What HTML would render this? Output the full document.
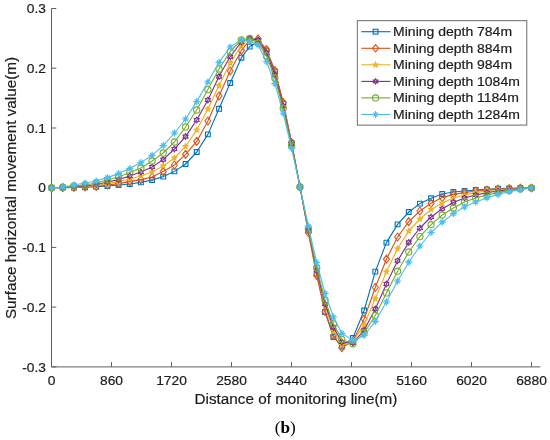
<!DOCTYPE html>
<html><head><meta charset="utf-8"><title>(b)</title>
<style>
html,body{margin:0;padding:0;background:#fff}
svg{display:block}
text{font-family:"Liberation Sans",Arial,Helvetica,sans-serif;fill:#1c1c1c;stroke:#1c1c1c;stroke-width:0.2px}
.t{font-size:13.33px}
.l{font-size:14.67px}
.cap{font-family:"Liberation Serif","Times New Roman",serif;font-size:16.4px;fill:#000;stroke:none}
</style></head><body>
<svg width="550" height="440" viewBox="0 0 550 440">
<rect width="550" height="440" fill="#fff"/>
<g stroke="#5e5e5e" stroke-width="1" fill="none"><path d="M51.5 8.5V366.9H540.3"/><path d="M51.5 366.9v-4.8M111.5 366.9v-4.8M171.5 366.9v-4.8M231.5 366.9v-4.8M291.5 366.9v-4.8M351.5 366.9v-4.8M411.5 366.9v-4.8M471.5 366.9v-4.8M531.5 366.9v-4.8M51.5 8.5h4.8M51.5 68.2h4.8M51.5 128.0h4.8M51.5 187.7h4.8M51.5 247.4h4.8M51.5 307.1h4.8M51.5 366.9h4.8"/></g>
<g fill="none" stroke="#0072BD" stroke-width="1.12" stroke-linejoin="round"><polyline points="51.6,187.8 62.8,187.6 73.9,187.5 85.1,187.3 96.3,186.8 107.4,186.0 118.6,185.0 129.7,184.0 140.9,182.4 152.1,180.0 163.2,176.6 174.4,171.4 185.6,164.0 196.7,152.0 207.9,134.4 219.0,108.8 230.2,83.0 241.4,57.7 249.7,46.6 258.1,41.8 266.5,50.5 274.9,71.5 283.2,103.5 291.6,143.0 300.0,187.0 308.3,230.7 316.7,273.8 325.1,312.0 333.5,337.0 341.8,346.5 352.9,338.0 364.1,310.5 375.3,271.6 386.4,242.6 397.6,224.4 408.8,212.0 419.9,203.6 431.1,198.3 442.2,194.0 453.4,192.0 464.5,191.0 475.7,190.0 486.9,189.4 498.0,188.6 509.2,188.4 520.4,188.0 531.5,188.0"/><rect x="49.2" y="185.4" width="4.8" height="4.8"/><rect x="60.36" y="185.2" width="4.8" height="4.8"/><rect x="71.53" y="185.1" width="4.8" height="4.8"/><rect x="82.69" y="184.9" width="4.8" height="4.8"/><rect x="93.85" y="184.4" width="4.8" height="4.8"/><rect x="105.01" y="183.6" width="4.8" height="4.8"/><rect x="116.18" y="182.6" width="4.8" height="4.8"/><rect x="127.34" y="181.6" width="4.8" height="4.8"/><rect x="138.5" y="180" width="4.8" height="4.8"/><rect x="149.67" y="177.6" width="4.8" height="4.8"/><rect x="160.83" y="174.2" width="4.8" height="4.8"/><rect x="171.99" y="169" width="4.8" height="4.8"/><rect x="183.16" y="161.6" width="4.8" height="4.8"/><rect x="194.32" y="149.6" width="4.8" height="4.8"/><rect x="205.48" y="132" width="4.8" height="4.8"/><rect x="216.64" y="106.4" width="4.8" height="4.8"/><rect x="227.81" y="80.6" width="4.8" height="4.8"/><rect x="238.97" y="55.3" width="4.8" height="4.8"/><rect x="247.34" y="44.2" width="4.8" height="4.8"/><rect x="255.71" y="39.4" width="4.8" height="4.8"/><rect x="264.09" y="48.1" width="4.8" height="4.8"/><rect x="272.46" y="69.1" width="4.8" height="4.8"/><rect x="280.83" y="101.1" width="4.8" height="4.8"/><rect x="289.2" y="140.6" width="4.8" height="4.8"/><rect x="297.57" y="184.6" width="4.8" height="4.8"/><rect x="305.95" y="228.29" width="4.8" height="4.8"/><rect x="314.32" y="271.38" width="4.8" height="4.8"/><rect x="322.69" y="309.6" width="4.8" height="4.8"/><rect x="331.06" y="334.6" width="4.8" height="4.8"/><rect x="339.43" y="344.1" width="4.8" height="4.8"/><rect x="350.55" y="335.6" width="4.8" height="4.8"/><rect x="361.71" y="308.1" width="4.8" height="4.8"/><rect x="372.87" y="269.2" width="4.8" height="4.8"/><rect x="384.03" y="240.2" width="4.8" height="4.8"/><rect x="395.19" y="222" width="4.8" height="4.8"/><rect x="406.35" y="209.6" width="4.8" height="4.8"/><rect x="417.51" y="201.2" width="4.8" height="4.8"/><rect x="428.67" y="195.9" width="4.8" height="4.8"/><rect x="439.83" y="191.6" width="4.8" height="4.8"/><rect x="450.99" y="189.6" width="4.8" height="4.8"/><rect x="462.15" y="188.6" width="4.8" height="4.8"/><rect x="473.31" y="187.6" width="4.8" height="4.8"/><rect x="484.47" y="187" width="4.8" height="4.8"/><rect x="495.63" y="186.2" width="4.8" height="4.8"/><rect x="506.79" y="186" width="4.8" height="4.8"/><rect x="517.95" y="185.6" width="4.8" height="4.8"/><rect x="529.11" y="185.6" width="4.8" height="4.8"/></g>
<g fill="none" stroke="#D95319" stroke-width="1.12" stroke-linejoin="round"><polyline points="51.6,187.8 62.8,187.6 73.9,187.3 85.1,187.0 96.3,186.3 107.4,185.0 118.6,183.6 129.7,181.6 140.9,179.6 152.1,177.0 163.2,171.6 174.4,165.0 185.6,154.4 196.7,141.4 207.9,121.0 219.0,96.0 230.2,71.0 241.4,50.4 249.7,40.0 258.1,38.9 266.5,49.6 274.9,70.5 283.2,102.6 291.6,142.5 300.0,187.0 308.3,232.5 316.7,275.5 325.1,311.5 333.5,335.6 341.8,347.7 352.9,341.0 364.1,319.0 375.3,287.5 386.4,259.2 397.6,237.0 408.8,221.6 419.9,211.0 431.1,203.3 442.2,197.6 453.4,194.4 464.5,192.6 475.7,191.0 486.9,190.0 498.0,189.0 509.2,188.6 520.4,188.2 531.5,188.0"/><path d="M51.6 183.8L54.6 187.8L51.6 191.8L48.6 187.8Z"/><path d="M62.76 183.6L65.76 187.6L62.76 191.6L59.76 187.6Z"/><path d="M73.93 183.3L76.93 187.3L73.93 191.3L70.93 187.3Z"/><path d="M85.09 183L88.09 187L85.09 191L82.09 187Z"/><path d="M96.25 182.3L99.25 186.3L96.25 190.3L93.25 186.3Z"/><path d="M107.41 181L110.41 185L107.41 189L104.41 185Z"/><path d="M118.58 179.6L121.58 183.6L118.58 187.6L115.58 183.6Z"/><path d="M129.74 177.6L132.74 181.6L129.74 185.6L126.74 181.6Z"/><path d="M140.9 175.6L143.9 179.6L140.9 183.6L137.9 179.6Z"/><path d="M152.07 173L155.07 177L152.07 181L149.07 177Z"/><path d="M163.23 167.6L166.23 171.6L163.23 175.6L160.23 171.6Z"/><path d="M174.39 161L177.39 165L174.39 169L171.39 165Z"/><path d="M185.56 150.4L188.56 154.4L185.56 158.4L182.56 154.4Z"/><path d="M196.72 137.4L199.72 141.4L196.72 145.4L193.72 141.4Z"/><path d="M207.88 117L210.88 121L207.88 125L204.88 121Z"/><path d="M219.04 92L222.04 96L219.04 100L216.04 96Z"/><path d="M230.21 67L233.21 71L230.21 75L227.21 71Z"/><path d="M241.37 46.4L244.37 50.4L241.37 54.4L238.37 50.4Z"/><path d="M249.74 36L252.74 40L249.74 44L246.74 40Z"/><path d="M258.11 34.9L261.11 38.9L258.11 42.9L255.11 38.9Z"/><path d="M266.49 45.6L269.49 49.6L266.49 53.6L263.49 49.6Z"/><path d="M274.86 66.5L277.86 70.5L274.86 74.5L271.86 70.5Z"/><path d="M283.23 98.64L286.23 102.64L283.23 106.64L280.23 102.64Z"/><path d="M291.6 138.47L294.6 142.47L291.6 146.47L288.6 142.47Z"/><path d="M299.97 183L302.97 187L299.97 191L296.97 187Z"/><path d="M308.35 228.49L311.35 232.49L308.35 236.49L305.35 232.49Z"/><path d="M316.72 271.46L319.72 275.46L316.72 279.46L313.72 275.46Z"/><path d="M325.09 307.5L328.09 311.5L325.09 315.5L322.09 311.5Z"/><path d="M333.46 331.6L336.46 335.6L333.46 339.6L330.46 335.6Z"/><path d="M341.83 343.7L344.83 347.7L341.83 351.7L338.83 347.7Z"/><path d="M352.95 337L355.95 341L352.95 345L349.95 341Z"/><path d="M364.11 315L367.11 319L364.11 323L361.11 319Z"/><path d="M375.27 283.5L378.27 287.5L375.27 291.5L372.27 287.5Z"/><path d="M386.43 255.2L389.43 259.2L386.43 263.2L383.43 259.2Z"/><path d="M397.59 233L400.59 237L397.59 241L394.59 237Z"/><path d="M408.75 217.6L411.75 221.6L408.75 225.6L405.75 221.6Z"/><path d="M419.91 207L422.91 211L419.91 215L416.91 211Z"/><path d="M431.07 199.3L434.07 203.3L431.07 207.3L428.07 203.3Z"/><path d="M442.23 193.6L445.23 197.6L442.23 201.6L439.23 197.6Z"/><path d="M453.39 190.4L456.39 194.4L453.39 198.4L450.39 194.4Z"/><path d="M464.55 188.6L467.55 192.6L464.55 196.6L461.55 192.6Z"/><path d="M475.71 187L478.71 191L475.71 195L472.71 191Z"/><path d="M486.87 186L489.87 190L486.87 194L483.87 190Z"/><path d="M498.03 185L501.03 189L498.03 193L495.03 189Z"/><path d="M509.19 184.6L512.19 188.6L509.19 192.6L506.19 188.6Z"/><path d="M520.35 184.2L523.35 188.2L520.35 192.2L517.35 188.2Z"/><path d="M531.51 184L534.51 188L531.51 192L528.51 188Z"/></g>
<g fill="none" stroke="#EDB120" stroke-width="1.12" stroke-linejoin="round"><polyline points="51.6,187.8 62.8,187.5 73.9,187.0 85.1,186.5 96.3,185.5 107.4,183.6 118.6,181.6 129.7,179.0 140.9,176.0 152.1,172.0 163.2,166.0 174.4,158.0 185.6,146.4 196.7,130.0 207.9,109.0 219.0,85.6 230.2,63.0 241.4,45.6 249.7,39.6 258.1,41.5 266.5,53.4 274.9,75.4 283.2,106.5 291.6,144.6 300.0,187.0 308.3,230.6 316.7,271.6 325.1,306.2 333.5,331.0 341.8,345.0 352.9,341.6 364.1,324.9 375.3,298.7 386.4,271.8 397.6,248.6 408.8,231.0 419.9,219.0 431.1,209.5 442.2,203.0 453.4,198.0 464.5,195.0 475.7,192.6 486.9,191.0 498.0,189.8 509.2,189.0 520.4,188.4 531.5,188.0"/><path d="M51.6 184.95L52.24 186.92L54.31 186.92L52.64 188.14L53.28 190.11L51.6 188.89L49.92 190.11L50.56 188.14L48.89 186.92L50.96 186.92Z"/><path d="M62.76 184.65L63.4 186.62L65.47 186.62L63.8 187.84L64.44 189.81L62.76 188.59L61.09 189.81L61.73 187.84L60.05 186.62L62.12 186.62Z"/><path d="M73.93 184.15L74.57 186.12L76.64 186.12L74.96 187.34L75.6 189.31L73.93 188.09L72.25 189.31L72.89 187.34L71.22 186.12L73.29 186.12Z"/><path d="M85.09 183.65L85.73 185.62L87.8 185.62L86.12 186.84L86.76 188.81L85.09 187.59L83.41 188.81L84.05 186.84L82.38 185.62L84.45 185.62Z"/><path d="M96.25 182.65L96.89 184.62L98.96 184.62L97.29 185.84L97.93 187.81L96.25 186.59L94.58 187.81L95.22 185.84L93.54 184.62L95.61 184.62Z"/><path d="M107.41 180.75L108.05 182.72L110.13 182.72L108.45 183.94L109.09 185.91L107.41 184.69L105.74 185.91L106.38 183.94L104.7 182.72L106.78 182.72Z"/><path d="M118.58 178.75L119.22 180.72L121.29 180.72L119.61 181.94L120.25 183.91L118.58 182.69L116.9 183.91L117.54 181.94L115.87 180.72L117.94 180.72Z"/><path d="M129.74 176.15L130.38 178.12L132.45 178.12L130.78 179.34L131.42 181.31L129.74 180.09L128.07 181.31L128.71 179.34L127.03 178.12L129.1 178.12Z"/><path d="M140.9 173.15L141.54 175.12L143.61 175.12L141.94 176.34L142.58 178.31L140.9 177.09L139.23 178.31L139.87 176.34L138.19 175.12L140.26 175.12Z"/><path d="M152.07 169.15L152.71 171.12L154.78 171.12L153.1 172.34L153.74 174.31L152.07 173.09L150.39 174.31L151.03 172.34L149.36 171.12L151.43 171.12Z"/><path d="M163.23 163.15L163.87 165.12L165.94 165.12L164.27 166.34L164.91 168.31L163.23 167.09L161.55 168.31L162.19 166.34L160.52 165.12L162.59 165.12Z"/><path d="M174.39 155.15L175.03 157.12L177.1 157.12L175.43 158.34L176.07 160.31L174.39 159.09L172.72 160.31L173.36 158.34L171.68 157.12L173.75 157.12Z"/><path d="M185.56 143.55L186.2 145.52L188.27 145.52L186.59 146.74L187.23 148.71L185.56 147.49L183.88 148.71L184.52 146.74L182.85 145.52L184.92 145.52Z"/><path d="M196.72 127.15L197.36 129.12L199.43 129.12L197.75 130.34L198.39 132.31L196.72 131.09L195.04 132.31L195.68 130.34L194.01 129.12L196.08 129.12Z"/><path d="M207.88 106.15L208.52 108.12L210.59 108.12L208.92 109.34L209.56 111.31L207.88 110.09L206.21 111.31L206.85 109.34L205.17 108.12L207.24 108.12Z"/><path d="M219.04 82.75L219.68 84.72L221.76 84.72L220.08 85.94L220.72 87.91L219.04 86.69L217.37 87.91L218.01 85.94L216.33 84.72L218.41 84.72Z"/><path d="M230.21 60.15L230.85 62.12L232.92 62.12L231.24 63.34L231.88 65.31L230.21 64.09L228.53 65.31L229.17 63.34L227.5 62.12L229.57 62.12Z"/><path d="M241.37 42.75L242.01 44.72L244.08 44.72L242.41 45.94L243.05 47.91L241.37 46.69L239.7 47.91L240.34 45.94L238.66 44.72L240.73 44.72Z"/><path d="M249.74 36.75L250.38 38.72L252.45 38.72L250.78 39.94L251.42 41.91L249.74 40.69L248.07 41.91L248.71 39.94L247.03 38.72L249.1 38.72Z"/><path d="M258.11 38.68L258.75 40.65L260.82 40.65L259.15 41.87L259.79 43.83L258.11 42.62L256.44 43.83L257.08 41.87L255.4 40.65L257.47 40.65Z"/><path d="M266.49 50.56L267.13 52.53L269.2 52.53L267.52 53.75L268.16 55.72L266.49 54.5L264.81 55.72L265.45 53.75L263.78 52.53L265.85 52.53Z"/><path d="M274.86 72.58L275.5 74.55L277.57 74.55L275.89 75.77L276.53 77.73L274.86 76.52L273.18 77.73L273.82 75.77L272.15 74.55L274.22 74.55Z"/><path d="M283.23 103.66L283.87 105.63L285.94 105.63L284.27 106.85L284.91 108.82L283.23 107.6L281.55 108.82L282.19 106.85L280.52 105.63L282.59 105.63Z"/><path d="M291.6 141.76L292.24 143.73L294.31 143.73L292.64 144.95L293.28 146.91L291.6 145.7L289.93 146.91L290.57 144.95L288.89 143.73L290.96 143.73Z"/><path d="M299.97 184.15L300.61 186.12L302.68 186.12L301.01 187.34L301.65 189.31L299.97 188.09L298.3 189.31L298.94 187.34L297.26 186.12L299.33 186.12Z"/><path d="M308.35 227.73L308.99 229.7L311.06 229.7L309.38 230.91L310.02 232.88L308.35 231.66L306.67 232.88L307.31 230.91L305.64 229.7L307.71 229.7Z"/><path d="M316.72 268.74L317.36 270.71L319.43 270.71L317.75 271.93L318.39 273.9L316.72 272.68L315.04 273.9L315.68 271.93L314.01 270.71L316.08 270.71Z"/><path d="M325.09 303.36L325.73 305.33L327.8 305.33L326.13 306.55L326.77 308.52L325.09 307.3L323.41 308.52L324.05 306.55L322.38 305.33L324.45 305.33Z"/><path d="M333.46 328.15L334.1 330.12L336.17 330.12L334.5 331.34L335.14 333.31L333.46 332.09L331.79 333.31L332.43 331.34L330.75 330.12L332.82 330.12Z"/><path d="M341.83 342.15L342.47 344.12L344.54 344.12L342.87 345.34L343.51 347.31L341.83 346.09L340.16 347.31L340.8 345.34L339.12 344.12L341.19 344.12Z"/><path d="M352.95 338.75L353.59 340.72L355.66 340.72L353.99 341.94L354.63 343.91L352.95 342.69L351.27 343.91L351.91 341.94L350.24 340.72L352.31 340.72Z"/><path d="M364.11 322.05L364.75 324.02L366.82 324.02L365.15 325.24L365.79 327.21L364.11 325.99L362.43 327.21L363.07 325.24L361.4 324.02L363.47 324.02Z"/><path d="M375.27 295.85L375.91 297.82L377.98 297.82L376.31 299.04L376.95 301.01L375.27 299.79L373.59 301.01L374.23 299.04L372.56 297.82L374.63 297.82Z"/><path d="M386.43 268.95L387.07 270.92L389.14 270.92L387.47 272.14L388.11 274.11L386.43 272.89L384.75 274.11L385.39 272.14L383.72 270.92L385.79 270.92Z"/><path d="M397.59 245.75L398.23 247.72L400.3 247.72L398.63 248.94L399.27 250.91L397.59 249.69L395.91 250.91L396.55 248.94L394.88 247.72L396.95 247.72Z"/><path d="M408.75 228.15L409.39 230.12L411.46 230.12L409.79 231.34L410.43 233.31L408.75 232.09L407.07 233.31L407.71 231.34L406.04 230.12L408.11 230.12Z"/><path d="M419.91 216.15L420.55 218.12L422.62 218.12L420.95 219.34L421.59 221.31L419.91 220.09L418.23 221.31L418.87 219.34L417.2 218.12L419.27 218.12Z"/><path d="M431.07 206.65L431.71 208.62L433.78 208.62L432.11 209.84L432.75 211.81L431.07 210.59L429.39 211.81L430.03 209.84L428.36 208.62L430.43 208.62Z"/><path d="M442.23 200.15L442.87 202.12L444.94 202.12L443.27 203.34L443.91 205.31L442.23 204.09L440.55 205.31L441.19 203.34L439.52 202.12L441.59 202.12Z"/><path d="M453.39 195.15L454.03 197.12L456.1 197.12L454.43 198.34L455.07 200.31L453.39 199.09L451.71 200.31L452.35 198.34L450.68 197.12L452.75 197.12Z"/><path d="M464.55 192.15L465.19 194.12L467.26 194.12L465.59 195.34L466.23 197.31L464.55 196.09L462.87 197.31L463.51 195.34L461.84 194.12L463.91 194.12Z"/><path d="M475.71 189.75L476.35 191.72L478.42 191.72L476.75 192.94L477.39 194.91L475.71 193.69L474.03 194.91L474.67 192.94L473 191.72L475.07 191.72Z"/><path d="M486.87 188.15L487.51 190.12L489.58 190.12L487.91 191.34L488.55 193.31L486.87 192.09L485.19 193.31L485.83 191.34L484.16 190.12L486.23 190.12Z"/><path d="M498.03 186.95L498.67 188.92L500.74 188.92L499.07 190.14L499.71 192.11L498.03 190.89L496.35 192.11L496.99 190.14L495.32 188.92L497.39 188.92Z"/><path d="M509.19 186.15L509.83 188.12L511.9 188.12L510.23 189.34L510.87 191.31L509.19 190.09L507.51 191.31L508.15 189.34L506.48 188.12L508.55 188.12Z"/><path d="M520.35 185.55L520.99 187.52L523.06 187.52L521.39 188.74L522.03 190.71L520.35 189.49L518.67 190.71L519.31 188.74L517.64 187.52L519.71 187.52Z"/><path d="M531.51 185.15L532.15 187.12L534.22 187.12L532.55 188.34L533.19 190.31L531.51 189.09L529.83 190.31L530.47 188.34L528.8 187.12L530.87 187.12Z"/></g>
<g fill="none" stroke="#7E2F8E" stroke-width="1.12" stroke-linejoin="round"><polyline points="51.6,187.8 62.8,187.4 73.9,186.5 85.1,186.0 96.3,184.5 107.4,182.0 118.6,179.6 129.7,176.0 140.9,172.0 152.1,167.0 163.2,159.6 174.4,149.0 185.6,136.6 196.7,120.0 207.9,100.0 219.0,76.6 230.2,56.6 241.4,42.0 249.7,38.5 258.1,40.0 266.5,52.7 274.9,74.8 283.2,106.0 291.6,144.3 300.0,187.0 308.3,230.3 316.7,270.5 325.1,304.0 333.5,327.4 341.8,342.0 352.9,343.0 364.1,330.2 375.3,308.9 386.4,284.0 397.6,260.7 408.8,242.4 419.9,228.0 431.1,217.0 442.2,208.8 453.4,202.4 464.5,198.0 475.7,195.0 486.9,192.6 498.0,191.0 509.2,189.6 520.4,188.6 531.5,188.0"/><path d="M51.6 184.85L52.45 186.33L54.15 186.33L53.3 187.8L54.15 189.28L52.45 189.27L51.6 190.75L50.75 189.27L49.05 189.28L49.9 187.8L49.05 186.33L50.75 186.33Z"/><path d="M62.76 184.45L63.61 185.93L65.32 185.93L64.47 187.4L65.32 188.88L63.61 188.87L62.76 190.35L61.91 188.87L60.21 188.88L61.06 187.4L60.21 185.93L61.91 185.93Z"/><path d="M73.93 183.55L74.78 185.03L76.48 185.03L75.63 186.5L76.48 187.97L74.78 187.97L73.93 189.45L73.07 187.97L71.37 187.97L72.22 186.5L71.37 185.03L73.07 185.03Z"/><path d="M85.09 183.05L85.94 184.53L87.64 184.53L86.79 186L87.64 187.47L85.94 187.47L85.09 188.95L84.24 187.47L82.53 187.47L83.39 186L82.53 184.53L84.24 184.53Z"/><path d="M96.25 181.55L97.1 183.03L98.81 183.03L97.95 184.5L98.81 185.97L97.1 185.97L96.25 187.45L95.4 185.97L93.7 185.97L94.55 184.5L93.7 183.03L95.4 183.03Z"/><path d="M107.41 179.05L108.27 180.53L109.97 180.53L109.12 182L109.97 183.47L108.27 183.47L107.41 184.95L106.56 183.47L104.86 183.47L105.71 182L104.86 180.53L106.56 180.53Z"/><path d="M118.58 176.65L119.43 178.13L121.13 178.12L120.28 179.6L121.13 181.07L119.43 181.07L118.58 182.55L117.73 181.07L116.02 181.07L116.88 179.6L116.02 178.12L117.73 178.13Z"/><path d="M129.74 173.05L130.59 174.53L132.3 174.53L131.44 176L132.3 177.47L130.59 177.47L129.74 178.95L128.89 177.47L127.19 177.47L128.04 176L127.19 174.53L128.89 174.53Z"/><path d="M140.9 169.05L141.76 170.53L143.46 170.53L142.61 172L143.46 173.47L141.76 173.47L140.9 174.95L140.05 173.47L138.35 173.47L139.2 172L138.35 170.53L140.05 170.53Z"/><path d="M152.07 164.05L152.92 165.53L154.62 165.53L153.77 167L154.62 168.47L152.92 168.47L152.07 169.95L151.22 168.47L149.51 168.47L150.36 167L149.51 165.53L151.22 165.53Z"/><path d="M163.23 156.65L164.08 158.13L165.78 158.12L164.93 159.6L165.78 161.07L164.08 161.07L163.23 162.55L162.38 161.07L160.68 161.07L161.53 159.6L160.68 158.12L162.38 158.13Z"/><path d="M174.39 146.05L175.24 147.53L176.95 147.53L176.1 149L176.95 150.47L175.24 150.47L174.39 151.95L173.54 150.47L171.84 150.47L172.69 149L171.84 147.53L173.54 147.53Z"/><path d="M185.56 133.65L186.41 135.13L188.11 135.12L187.26 136.6L188.11 138.07L186.41 138.07L185.56 139.55L184.7 138.07L183 138.07L183.85 136.6L183 135.12L184.7 135.13Z"/><path d="M196.72 117.05L197.57 118.53L199.27 118.53L198.42 120L199.27 121.47L197.57 121.47L196.72 122.95L195.87 121.47L194.16 121.47L195.02 120L194.16 118.53L195.87 118.53Z"/><path d="M207.88 97.05L208.73 98.53L210.44 98.53L209.58 100L210.44 101.47L208.73 101.47L207.88 102.95L207.03 101.47L205.33 101.47L206.18 100L205.33 98.53L207.03 98.53Z"/><path d="M219.04 73.65L219.9 75.13L221.6 75.12L220.75 76.6L221.6 78.07L219.9 78.07L219.04 79.55L218.19 78.07L216.49 78.07L217.34 76.6L216.49 75.12L218.19 75.13Z"/><path d="M230.21 53.65L231.06 55.13L232.76 55.12L231.91 56.6L232.76 58.08L231.06 58.07L230.21 59.55L229.36 58.07L227.65 58.08L228.51 56.6L227.65 55.12L229.36 55.13Z"/><path d="M241.37 39.05L242.22 40.53L243.93 40.52L243.07 42L243.93 43.48L242.22 43.47L241.37 44.95L240.52 43.47L238.82 43.48L239.67 42L238.82 40.52L240.52 40.53Z"/><path d="M249.74 35.55L250.59 37.03L252.3 37.02L251.44 38.5L252.3 39.98L250.59 39.97L249.74 41.45L248.89 39.97L247.19 39.98L248.04 38.5L247.19 37.02L248.89 37.03Z"/><path d="M258.11 37.05L258.97 38.53L260.67 38.52L259.82 40L260.67 41.48L258.97 41.47L258.11 42.95L257.26 41.47L255.56 41.48L256.41 40L255.56 38.52L257.26 38.53Z"/><path d="M266.49 49.75L267.34 51.23L269.04 51.23L268.19 52.7L269.04 54.18L267.34 54.17L266.49 55.65L265.63 54.17L263.93 54.18L264.78 52.7L263.93 51.23L265.63 51.23Z"/><path d="M274.86 71.85L275.71 73.32L277.41 73.32L276.56 74.8L277.41 76.27L275.71 76.27L274.86 77.75L274.01 76.27L272.3 76.27L273.16 74.8L272.3 73.32L274.01 73.32Z"/><path d="M283.23 103.01L284.08 104.48L285.78 104.48L284.93 105.96L285.78 107.43L284.08 107.43L283.23 108.91L282.38 107.43L280.68 107.43L281.53 105.96L280.68 104.48L282.38 104.48Z"/><path d="M291.6 141.37L292.45 142.84L294.16 142.84L293.3 144.32L294.16 145.79L292.45 145.79L291.6 147.27L290.75 145.79L289.05 145.79L289.9 144.32L289.05 142.84L290.75 142.84Z"/><path d="M299.97 184.05L300.83 185.53L302.53 185.53L301.68 187L302.53 188.47L300.83 188.47L299.97 189.95L299.12 188.47L297.42 188.47L298.27 187L297.42 185.53L299.12 185.53Z"/><path d="M308.35 227.38L309.2 228.86L310.9 228.86L310.05 230.33L310.9 231.81L309.2 231.81L308.35 233.28L307.49 231.81L305.79 231.81L306.64 230.33L305.79 228.86L307.49 228.86Z"/><path d="M316.72 267.57L317.57 269.05L319.27 269.05L318.42 270.52L319.27 272L317.57 272L316.72 273.47L315.87 272L314.16 272L315.02 270.52L314.16 269.05L315.87 269.05Z"/><path d="M325.09 301.05L325.94 302.53L327.64 302.52L326.79 304L327.64 305.48L325.94 305.47L325.09 306.95L324.24 305.47L322.54 305.48L323.39 304L322.54 302.52L324.24 302.53Z"/><path d="M333.46 324.45L334.31 325.93L336.02 325.92L335.16 327.4L336.02 328.88L334.31 328.87L333.46 330.35L332.61 328.87L330.91 328.88L331.76 327.4L330.91 325.92L332.61 325.93Z"/><path d="M341.83 339.05L342.69 340.53L344.39 340.52L343.54 342L344.39 343.48L342.69 343.47L341.83 344.95L340.98 343.47L339.28 343.48L340.13 342L339.28 340.52L340.98 340.53Z"/><path d="M352.95 340.05L353.8 341.53L355.5 341.52L354.65 343L355.5 344.48L353.8 344.47L352.95 345.95L352.1 344.47L350.4 344.48L351.25 343L350.4 341.52L352.1 341.53Z"/><path d="M364.11 327.25L364.96 328.73L366.66 328.72L365.81 330.2L366.66 331.68L364.96 331.67L364.11 333.15L363.26 331.67L361.56 331.68L362.41 330.2L361.56 328.72L363.26 328.73Z"/><path d="M375.27 305.95L376.12 307.43L377.82 307.42L376.97 308.9L377.82 310.38L376.12 310.37L375.27 311.85L374.42 310.37L372.72 310.38L373.57 308.9L372.72 307.42L374.42 307.43Z"/><path d="M386.43 281.05L387.28 282.53L388.98 282.52L388.13 284L388.98 285.48L387.28 285.47L386.43 286.95L385.58 285.47L383.88 285.48L384.73 284L383.88 282.52L385.58 282.53Z"/><path d="M397.59 257.75L398.44 259.23L400.14 259.22L399.29 260.7L400.14 262.18L398.44 262.17L397.59 263.65L396.74 262.17L395.04 262.18L395.89 260.7L395.04 259.22L396.74 259.23Z"/><path d="M408.75 239.45L409.6 240.93L411.3 240.93L410.45 242.4L411.3 243.88L409.6 243.87L408.75 245.35L407.9 243.87L406.2 243.88L407.05 242.4L406.2 240.93L407.9 240.93Z"/><path d="M419.91 225.05L420.76 226.53L422.46 226.53L421.61 228L422.46 229.47L420.76 229.47L419.91 230.95L419.06 229.47L417.36 229.47L418.21 228L417.36 226.53L419.06 226.53Z"/><path d="M431.07 214.05L431.92 215.53L433.62 215.53L432.77 217L433.62 218.47L431.92 218.47L431.07 219.95L430.22 218.47L428.52 218.47L429.37 217L428.52 215.53L430.22 215.53Z"/><path d="M442.23 205.85L443.08 207.33L444.78 207.33L443.93 208.8L444.78 210.28L443.08 210.27L442.23 211.75L441.38 210.27L439.68 210.28L440.53 208.8L439.68 207.33L441.38 207.33Z"/><path d="M453.39 199.45L454.24 200.93L455.94 200.93L455.09 202.4L455.94 203.88L454.24 203.87L453.39 205.35L452.54 203.87L450.84 203.88L451.69 202.4L450.84 200.93L452.54 200.93Z"/><path d="M464.55 195.05L465.4 196.53L467.1 196.53L466.25 198L467.1 199.47L465.4 199.47L464.55 200.95L463.7 199.47L462 199.47L462.85 198L462 196.53L463.7 196.53Z"/><path d="M475.71 192.05L476.56 193.53L478.26 193.53L477.41 195L478.26 196.47L476.56 196.47L475.71 197.95L474.86 196.47L473.16 196.47L474.01 195L473.16 193.53L474.86 193.53Z"/><path d="M486.87 189.65L487.72 191.13L489.42 191.12L488.57 192.6L489.42 194.07L487.72 194.07L486.87 195.55L486.02 194.07L484.32 194.07L485.17 192.6L484.32 191.12L486.02 191.13Z"/><path d="M498.03 188.05L498.88 189.53L500.58 189.53L499.73 191L500.58 192.47L498.88 192.47L498.03 193.95L497.18 192.47L495.48 192.47L496.33 191L495.48 189.53L497.18 189.53Z"/><path d="M509.19 186.65L510.04 188.13L511.74 188.12L510.89 189.6L511.74 191.07L510.04 191.07L509.19 192.55L508.34 191.07L506.64 191.07L507.49 189.6L506.64 188.12L508.34 188.13Z"/><path d="M520.35 185.65L521.2 187.13L522.9 187.12L522.05 188.6L522.9 190.07L521.2 190.07L520.35 191.55L519.5 190.07L517.8 190.07L518.65 188.6L517.8 187.12L519.5 187.13Z"/><path d="M531.51 185.05L532.36 186.53L534.06 186.53L533.21 188L534.06 189.47L532.36 189.47L531.51 190.95L530.66 189.47L528.96 189.47L529.81 188L528.96 186.53L530.66 186.53Z"/></g>
<g fill="none" stroke="#77AC30" stroke-width="1.12" stroke-linejoin="round"><polyline points="51.6,187.8 62.8,187.2 73.9,186.0 85.1,185.0 96.3,183.0 107.4,180.0 118.6,177.0 129.7,172.6 140.9,168.0 152.1,161.0 163.2,153.0 174.4,142.0 185.6,127.0 196.7,110.0 207.9,89.6 219.0,69.0 230.2,51.6 241.4,40.0 249.7,38.5 258.1,43.0 266.5,56.0 274.9,78.0 283.2,108.4 291.6,145.7 300.0,187.0 308.3,228.9 316.7,267.8 325.1,300.3 333.5,324.0 341.8,339.5 352.9,343.8 364.1,333.0 375.3,315.5 386.4,292.9 397.6,271.2 408.8,252.0 419.9,236.6 431.1,224.7 442.2,215.0 453.4,208.0 464.5,202.0 475.7,198.0 486.9,195.0 498.0,192.6 509.2,190.4 520.4,189.0 531.5,188.0"/><circle cx="51.6" cy="187.8" r="3.1"/><circle cx="62.76" cy="187.2" r="3.1"/><circle cx="73.93" cy="186" r="3.1"/><circle cx="85.09" cy="185" r="3.1"/><circle cx="96.25" cy="183" r="3.1"/><circle cx="107.41" cy="180" r="3.1"/><circle cx="118.58" cy="177" r="3.1"/><circle cx="129.74" cy="172.6" r="3.1"/><circle cx="140.9" cy="168" r="3.1"/><circle cx="152.07" cy="161" r="3.1"/><circle cx="163.23" cy="153" r="3.1"/><circle cx="174.39" cy="142" r="3.1"/><circle cx="185.56" cy="127" r="3.1"/><circle cx="196.72" cy="110" r="3.1"/><circle cx="207.88" cy="89.6" r="3.1"/><circle cx="219.04" cy="69" r="3.1"/><circle cx="230.21" cy="51.6" r="3.1"/><circle cx="241.37" cy="40" r="3.1"/><circle cx="249.74" cy="38.5" r="3.1"/><circle cx="258.11" cy="42.98" r="3.1"/><circle cx="266.49" cy="55.98" r="3.1"/><circle cx="274.86" cy="77.97" r="3.1"/><circle cx="283.23" cy="108.43" r="3.1"/><circle cx="291.6" cy="145.68" r="3.1"/><circle cx="299.97" cy="187" r="3.1"/><circle cx="308.35" cy="228.93" r="3.1"/><circle cx="316.72" cy="267.78" r="3.1"/><circle cx="325.09" cy="300.26" r="3.1"/><circle cx="333.46" cy="324" r="3.1"/><circle cx="341.83" cy="339.5" r="3.1"/><circle cx="352.95" cy="343.8" r="3.1"/><circle cx="364.11" cy="333" r="3.1"/><circle cx="375.27" cy="315.5" r="3.1"/><circle cx="386.43" cy="292.9" r="3.1"/><circle cx="397.59" cy="271.2" r="3.1"/><circle cx="408.75" cy="252" r="3.1"/><circle cx="419.91" cy="236.6" r="3.1"/><circle cx="431.07" cy="224.7" r="3.1"/><circle cx="442.23" cy="215" r="3.1"/><circle cx="453.39" cy="208" r="3.1"/><circle cx="464.55" cy="202" r="3.1"/><circle cx="475.71" cy="198" r="3.1"/><circle cx="486.87" cy="195" r="3.1"/><circle cx="498.03" cy="192.6" r="3.1"/><circle cx="509.19" cy="190.4" r="3.1"/><circle cx="520.35" cy="189" r="3.1"/><circle cx="531.51" cy="188" r="3.1"/></g>
<g fill="none" stroke="#4DBEEE" stroke-width="1.12" stroke-linejoin="round"><polyline points="51.6,187.8 62.8,187.0 73.9,185.0 85.1,183.0 96.3,181.0 107.4,177.6 118.6,173.6 129.7,168.6 140.9,162.6 152.1,155.3 163.2,145.6 174.4,133.0 185.6,119.0 196.7,101.6 207.9,82.0 219.0,62.4 230.2,47.0 241.4,39.6 249.7,41.0 258.1,45.0 266.5,61.5 274.9,83.7 283.2,113.2 291.6,148.5 300.0,187.0 308.3,226.1 316.7,262.5 325.1,293.5 333.5,317.0 341.8,333.3 352.9,340.4 364.1,335.5 375.3,321.3 386.4,302.0 397.6,281.0 408.8,262.2 419.9,246.0 431.1,232.5 442.2,222.2 453.4,213.6 464.5,207.0 475.7,202.0 486.9,198.0 498.0,194.4 509.2,191.6 520.4,189.6 531.5,188.0"/><path stroke-width="1.2" d="M48 187.8L55.2 187.8M49.44 185.64L53.76 189.96M51.6 184.2L51.6 191.4M53.76 185.64L49.44 189.96"/><path stroke-width="1.2" d="M59.16 187L66.36 187M60.6 184.84L64.93 189.16M62.76 183.4L62.76 190.6M64.93 184.84L60.6 189.16"/><path stroke-width="1.2" d="M70.33 185L77.53 185M71.76 182.84L76.09 187.16M73.93 181.4L73.93 188.6M76.09 182.84L71.76 187.16"/><path stroke-width="1.2" d="M81.49 183L88.69 183M82.93 180.84L87.25 185.16M85.09 179.4L85.09 186.6M87.25 180.84L82.93 185.16"/><path stroke-width="1.2" d="M92.65 181L99.85 181M94.09 178.84L98.42 183.16M96.25 177.4L96.25 184.6M98.42 178.84L94.09 183.16"/><path stroke-width="1.2" d="M103.81 177.6L111.01 177.6M105.25 175.44L109.58 179.76M107.41 174L107.41 181.2M109.58 175.44L105.25 179.76"/><path stroke-width="1.2" d="M114.98 173.6L122.18 173.6M116.41 171.44L120.74 175.76M118.58 170L118.58 177.2M120.74 171.44L116.41 175.76"/><path stroke-width="1.2" d="M126.14 168.6L133.34 168.6M127.58 166.44L131.9 170.76M129.74 165L129.74 172.2M131.9 166.44L127.58 170.76"/><path stroke-width="1.2" d="M137.3 162.6L144.5 162.6M138.74 160.44L143.07 164.76M140.9 159L140.9 166.2M143.07 160.44L138.74 164.76"/><path stroke-width="1.2" d="M148.47 155.3L155.67 155.3M149.9 153.14L154.23 157.46M152.07 151.7L152.07 158.9M154.23 153.14L149.9 157.46"/><path stroke-width="1.2" d="M159.63 145.6L166.83 145.6M161.07 143.44L165.39 147.76M163.23 142L163.23 149.2M165.39 143.44L161.07 147.76"/><path stroke-width="1.2" d="M170.79 133L177.99 133M172.23 130.84L176.56 135.16M174.39 129.4L174.39 136.6M176.56 130.84L172.23 135.16"/><path stroke-width="1.2" d="M181.96 119L189.16 119M183.39 116.84L187.72 121.16M185.56 115.4L185.56 122.6M187.72 116.84L183.39 121.16"/><path stroke-width="1.2" d="M193.12 101.6L200.32 101.6M194.56 99.44L198.88 103.76M196.72 98L196.72 105.2M198.88 99.44L194.56 103.76"/><path stroke-width="1.2" d="M204.28 82L211.48 82M205.72 79.84L210.05 84.16M207.88 78.4L207.88 85.6M210.05 79.84L205.72 84.16"/><path stroke-width="1.2" d="M215.44 62.4L222.64 62.4M216.88 60.24L221.21 64.56M219.04 58.8L219.04 66M221.21 60.24L216.88 64.56"/><path stroke-width="1.2" d="M226.61 47L233.81 47M228.04 44.84L232.37 49.16M230.21 43.4L230.21 50.6M232.37 44.84L228.04 49.16"/><path stroke-width="1.2" d="M237.77 39.6L244.97 39.6M239.21 37.44L243.53 41.76M241.37 36L241.37 43.2M243.53 37.44L239.21 41.76"/><path stroke-width="1.2" d="M246.14 41L253.34 41M247.58 38.84L251.91 43.16M249.74 37.4L249.74 44.6M251.91 38.84L247.58 43.16"/><path stroke-width="1.2" d="M254.51 45L261.71 45M255.95 42.84L260.28 47.16M258.11 41.4L258.11 48.6M260.28 42.84L255.95 47.16"/><path stroke-width="1.2" d="M262.89 61.5L270.09 61.5M264.32 59.34L268.65 63.66M266.49 57.9L266.49 65.1M268.65 59.34L264.32 63.66"/><path stroke-width="1.2" d="M271.26 83.7L278.46 83.7M272.69 81.54L277.02 85.87M274.86 80.1L274.86 87.3M277.02 81.54L272.69 85.87"/><path stroke-width="1.2" d="M279.63 113.23L286.83 113.23M281.07 111.07L285.39 115.4M283.23 109.63L283.23 116.83M285.39 111.07L281.07 115.4"/><path stroke-width="1.2" d="M288 148.48L295.2 148.48M289.44 146.31L293.77 150.64M291.6 144.88L291.6 152.08M293.77 146.31L289.44 150.64"/><path stroke-width="1.2" d="M296.37 187L303.57 187M297.81 184.84L302.14 189.16M299.97 183.4L299.97 190.6M302.14 184.84L297.81 189.16"/><path stroke-width="1.2" d="M304.75 226.12L311.95 226.12M306.18 223.95L310.51 228.28M308.35 222.52L308.35 229.72M310.51 223.95L306.18 228.28"/><path stroke-width="1.2" d="M313.12 262.5L320.32 262.5M314.55 260.34L318.88 264.67M316.72 258.9L316.72 266.1M318.88 260.34L314.55 264.67"/><path stroke-width="1.2" d="M321.49 293.45L328.69 293.45M322.93 291.29L327.25 295.61M325.09 289.85L325.09 297.05M327.25 291.29L322.93 295.61"/><path stroke-width="1.2" d="M329.86 317L337.06 317M331.3 314.84L335.63 319.16M333.46 313.4L333.46 320.6M335.63 314.84L331.3 319.16"/><path stroke-width="1.2" d="M338.23 333.3L345.43 333.3M339.67 331.14L344 335.46M341.83 329.7L341.83 336.9M344 331.14L339.67 335.46"/><path stroke-width="1.2" d="M349.35 340.4L356.55 340.4M350.79 338.24L355.11 342.56M352.95 336.8L352.95 344M355.11 338.24L350.79 342.56"/><path stroke-width="1.2" d="M360.51 335.5L367.71 335.5M361.95 333.34L366.27 337.66M364.11 331.9L364.11 339.1M366.27 333.34L361.95 337.66"/><path stroke-width="1.2" d="M371.67 321.3L378.87 321.3M373.11 319.14L377.43 323.46M375.27 317.7L375.27 324.9M377.43 319.14L373.11 323.46"/><path stroke-width="1.2" d="M382.83 302L390.03 302M384.27 299.84L388.59 304.16M386.43 298.4L386.43 305.6M388.59 299.84L384.27 304.16"/><path stroke-width="1.2" d="M393.99 281L401.19 281M395.43 278.84L399.75 283.16M397.59 277.4L397.59 284.6M399.75 278.84L395.43 283.16"/><path stroke-width="1.2" d="M405.15 262.2L412.35 262.2M406.59 260.04L410.91 264.36M408.75 258.6L408.75 265.8M410.91 260.04L406.59 264.36"/><path stroke-width="1.2" d="M416.31 246L423.51 246M417.75 243.84L422.07 248.16M419.91 242.4L419.91 249.6M422.07 243.84L417.75 248.16"/><path stroke-width="1.2" d="M427.47 232.5L434.67 232.5M428.91 230.34L433.23 234.66M431.07 228.9L431.07 236.1M433.23 230.34L428.91 234.66"/><path stroke-width="1.2" d="M438.63 222.2L445.83 222.2M440.07 220.04L444.39 224.36M442.23 218.6L442.23 225.8M444.39 220.04L440.07 224.36"/><path stroke-width="1.2" d="M449.79 213.6L456.99 213.6M451.23 211.44L455.55 215.76M453.39 210L453.39 217.2M455.55 211.44L451.23 215.76"/><path stroke-width="1.2" d="M460.95 207L468.15 207M462.39 204.84L466.71 209.16M464.55 203.4L464.55 210.6M466.71 204.84L462.39 209.16"/><path stroke-width="1.2" d="M472.11 202L479.31 202M473.55 199.84L477.87 204.16M475.71 198.4L475.71 205.6M477.87 199.84L473.55 204.16"/><path stroke-width="1.2" d="M483.27 198L490.47 198M484.71 195.84L489.03 200.16M486.87 194.4L486.87 201.6M489.03 195.84L484.71 200.16"/><path stroke-width="1.2" d="M494.43 194.4L501.63 194.4M495.87 192.24L500.19 196.56M498.03 190.8L498.03 198M500.19 192.24L495.87 196.56"/><path stroke-width="1.2" d="M505.59 191.6L512.79 191.6M507.03 189.44L511.35 193.76M509.19 188L509.19 195.2M511.35 189.44L507.03 193.76"/><path stroke-width="1.2" d="M516.75 189.6L523.95 189.6M518.19 187.44L522.51 191.76M520.35 186L520.35 193.2M522.51 187.44L518.19 191.76"/><path stroke-width="1.2" d="M527.91 188L535.11 188M529.35 185.84L533.67 190.16M531.51 184.4L531.51 191.6M533.67 185.84L529.35 190.16"/></g>
<text class="t" transform="translate(51.5 385.1) scale(1.035 1)" text-anchor="middle">0</text><text class="t" transform="translate(111.5 385.1) scale(1.035 1)" text-anchor="middle">860</text><text class="t" transform="translate(171.5 385.1) scale(1.035 1)" text-anchor="middle">1720</text><text class="t" transform="translate(231.5 385.1) scale(1.035 1)" text-anchor="middle">2580</text><text class="t" transform="translate(291.5 385.1) scale(1.035 1)" text-anchor="middle">3440</text><text class="t" transform="translate(351.5 385.1) scale(1.035 1)" text-anchor="middle">4300</text><text class="t" transform="translate(411.5 385.1) scale(1.035 1)" text-anchor="middle">5160</text><text class="t" transform="translate(471.5 385.1) scale(1.035 1)" text-anchor="middle">6020</text><text class="t" transform="translate(531.5 385.1) scale(1.035 1)" text-anchor="middle">6880</text><text class="t" transform="translate(46 13.1) scale(1.035 1)" text-anchor="end">0.3</text><text class="t" transform="translate(46 72.8) scale(1.035 1)" text-anchor="end">0.2</text><text class="t" transform="translate(46 132.6) scale(1.035 1)" text-anchor="end">0.1</text><text class="t" transform="translate(46 192.3) scale(1.035 1)" text-anchor="end">0</text><text class="t" transform="translate(46 252.0) scale(1.035 1)" text-anchor="end">-0.1</text><text class="t" transform="translate(46 311.8) scale(1.035 1)" text-anchor="end">-0.2</text><text class="t" transform="translate(46 371.5) scale(1.035 1)" text-anchor="end">-0.3</text>
<text class="l" transform="translate(295.9 403.8) scale(1.041 1)" text-anchor="middle">Distance of monitoring line(m)</text>
<text class="l" transform="translate(15.8 188) rotate(-90) scale(1.041 1)" text-anchor="middle">Surface horizontal movement value(m)</text>
<text class="cap" transform="translate(285.2 432.5) scale(1.05 1)" text-anchor="middle">(<tspan font-weight="bold">b</tspan>)</text>
<rect x="357.3" y="20.7" width="169.5" height="104.4" fill="#fff" stroke="#5a5a5a" stroke-width="0.9"/>
<g fill="none" stroke="#0072BD" stroke-width="1.12"><path d="M361.3 31.7H390.5"/><rect x="373.2" y="29.3" width="4.8" height="4.8"/></g><text class="t" transform="translate(393.1 36.1) scale(1.05 1)">Mining depth 784m</text>
<g fill="none" stroke="#D95319" stroke-width="1.12"><path d="M361.3 48.3H390.5"/><path d="M375.6 44.66L378.6 48.26L375.6 51.86L372.6 48.26Z"/></g><text class="t" transform="translate(393.1 52.7) scale(1.05 1)">Mining depth 884m</text>
<g fill="none" stroke="#EDB120" stroke-width="1.12"><path d="M361.3 64.8H390.5"/><path d="M375.6 62.34L376.16 64.05L377.96 64.05L376.5 65.11L377.06 66.83L375.6 65.77L374.14 66.83L374.7 65.11L373.24 64.05L375.04 64.05Z"/></g><text class="t" transform="translate(393.1 69.2) scale(1.05 1)">Mining depth 984m</text>
<g fill="none" stroke="#7E2F8E" stroke-width="1.12"><path d="M361.3 81.4H390.5"/><path d="M375.6 78.81L376.34 80.1L377.82 80.1L377.08 81.38L377.82 82.66L376.34 82.66L375.6 83.95L374.86 82.66L373.38 82.66L374.12 81.38L373.38 80.1L374.86 80.1Z"/></g><text class="t" transform="translate(393.1 85.8) scale(1.05 1)">Mining depth 1084m</text>
<g fill="none" stroke="#77AC30" stroke-width="1.12"><path d="M361.3 97.9H390.5"/><circle cx="375.6" cy="97.94" r="3.1"/></g><text class="t" transform="translate(393.1 102.3) scale(1.05 1)">Mining depth 1184m</text>
<g fill="none" stroke="#4DBEEE" stroke-width="1.12"><path d="M361.3 114.5H390.5"/><path stroke-width="1.2" d="M372 114.5L379.2 114.5M373.44 112.34L377.76 116.66M375.6 110.9L375.6 118.1M377.76 112.34L373.44 116.66"/></g><text class="t" transform="translate(393.1 118.9) scale(1.05 1)">Mining depth 1284m</text>
</svg></body></html>
